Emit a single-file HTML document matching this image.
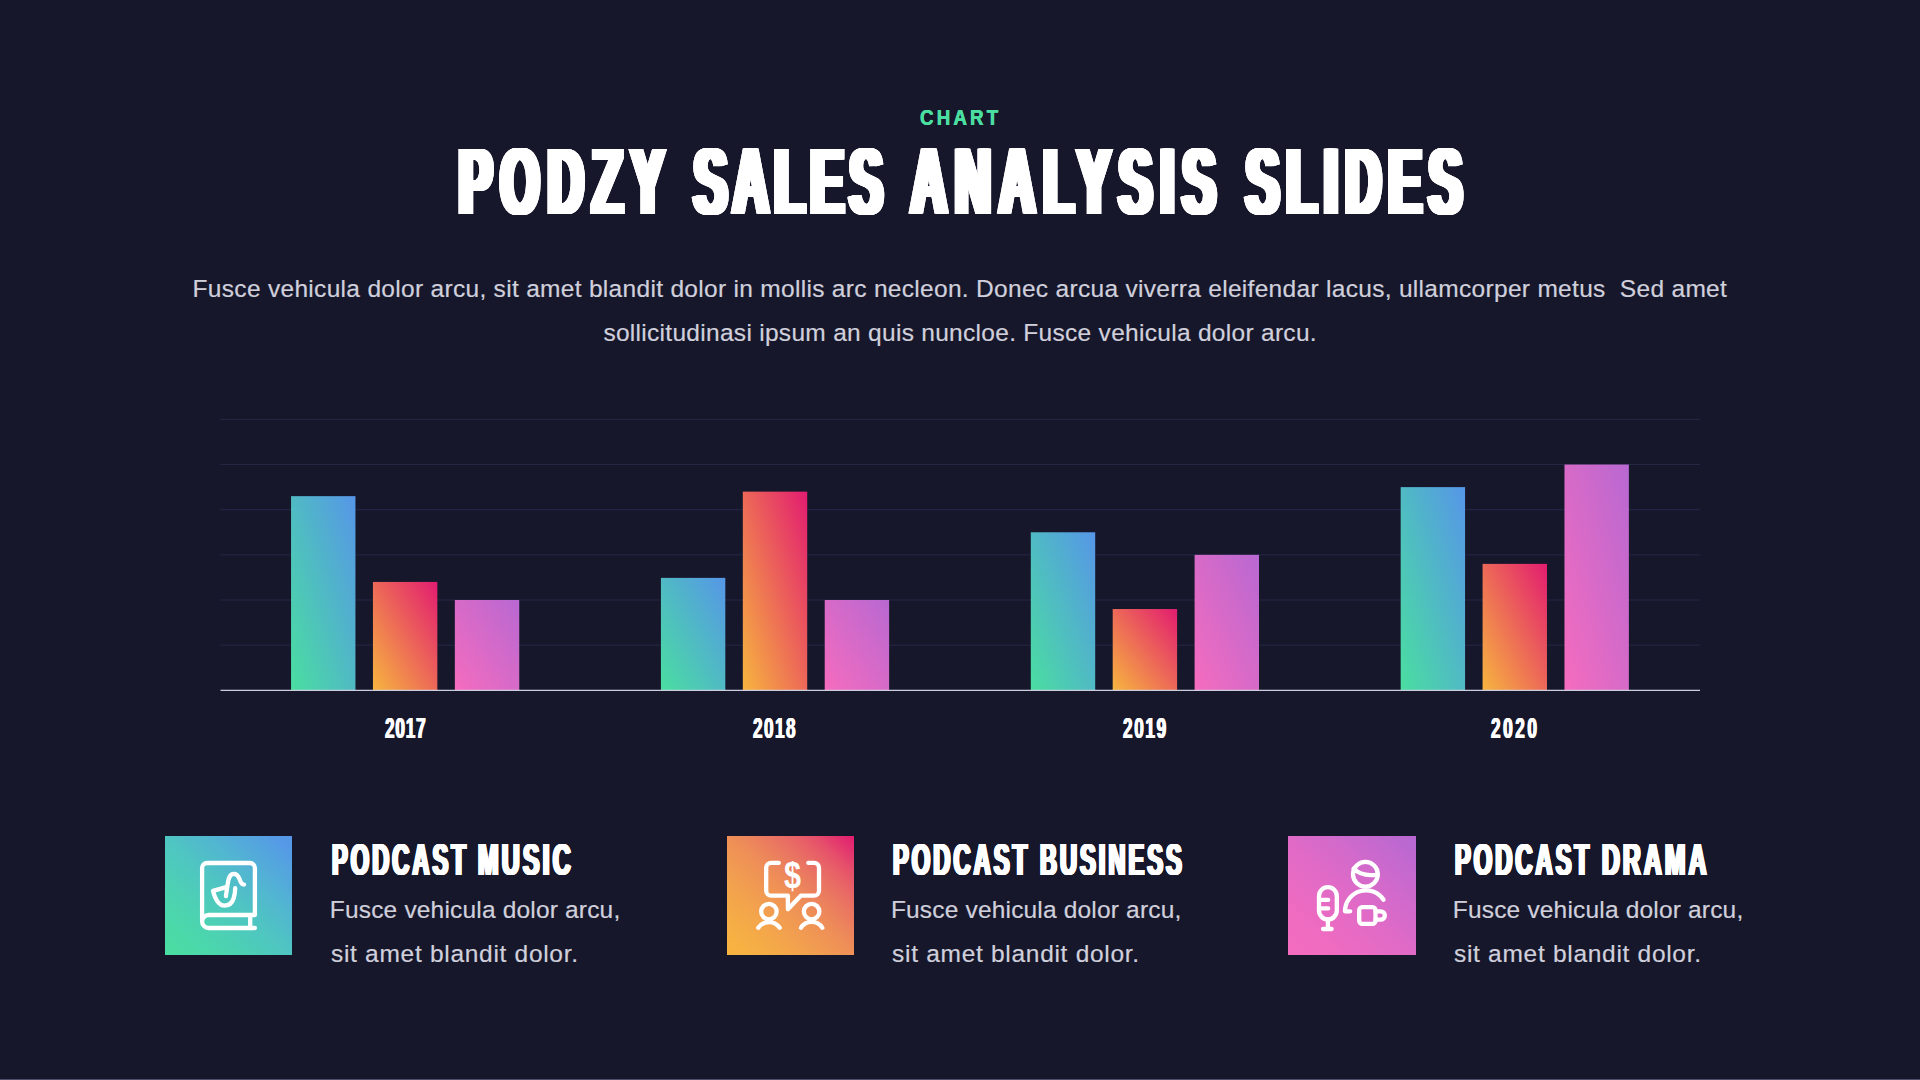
<!DOCTYPE html>
<html lang="en"><head><meta charset="utf-8"><title>Podzy Sales Analysis Slides - Chart</title>
<style>
html,body{margin:0;padding:0}
body{width:1920px;height:1080px;background:#17172b;position:relative;overflow:hidden;font-family:"Liberation Sans",sans-serif}
.abs,.abs div,.abs p,.abs h1,.abs h3,.abs span{position:absolute;display:block;margin:0;padding:0;white-space:nowrap}
.fx{transform-origin:0 0;font-weight:700;color:#fff}
.fx.kicker{color:#4adea0}
.body{color:#d0d0dc;font-weight:400;-webkit-text-stroke:0.2px #d0d0dc}
.i1{background:linear-gradient(to top right,#4adea0 0.0%,#4bdba5 8.3%,#4bd8aa 16.7%,#4cd4af 25.0%,#4dcfb5 33.3%,#4ecabc 41.7%,#4fc5c2 50.0%,#50bdc9 58.3%,#52b6d1 66.7%,#53add8 75.0%,#54a5de 83.3%,#559be5 91.7%,#5696e8 100.0%)}.i2{background:linear-gradient(to top right,#f7b53f 0.0%,#f6b143 8.3%,#f5ac46 16.7%,#f4a74a 25.0%,#f2a04f 33.3%,#f09853 41.7%,#ef9057 50.0%,#ec845c 58.3%,#ea7661 66.7%,#e86666 75.0%,#e6526a 83.3%,#e3366e 91.7%,#e21c70 100.0%)}.i3{background:linear-gradient(to top right,#f56cbe 0.0%,#f26cbf 8.3%,#ef6cc0 16.7%,#ec6bc1 25.0%,#e86bc3 33.3%,#e36bc5 41.7%,#df6ac7 50.0%,#d86ac9 58.3%,#d26acb 66.7%,#cb69cd 75.0%,#c469cf 83.3%,#bc68d1 91.7%,#b868d2 100.0%)}
.ico{width:127.2px;height:119px;top:836px}
svg{position:absolute;left:0;top:0;overflow:visible}
.ic *{fill:none;stroke:#fff;stroke-width:4.3;stroke-linecap:round;stroke-linejoin:round}
</style></head>
<body>
<header class="abs" style="left:0;top:0">
<div class="fx kicker" style="left:919.80px;top:107.97px;font-size:21.30px;line-height:21.30px;letter-spacing:3.586px;transform:scaleX(0.8800);text-shadow:0.34px 0 #4adea0,-0.34px 0 #4adea0">CHART</div>
<h1 style="left:0;top:0;font-size:95px">
<span class="fx" style="left:458.88px;top:133.96px;font-size:95.00px;line-height:95.00px;letter-spacing:16.805px;transform:scaleX(0.5200);text-shadow:1.00px 0 #fff,-1.00px 0 #fff,2.00px 0 #fff,-2.00px 0 #fff,3.00px 0 #fff,-3.00px 0 #fff,4.00px 0 #fff,-4.00px 0 #fff,5.00px 0 #fff,-5.00px 0 #fff,6.00px 0 #fff,-6.00px 0 #fff,7.00px 0 #fff,-7.00px 0 #fff,7.12px 0 #fff,-7.12px 0 #fff">PODZY</span> 
<span class="fx" style="left:693.66px;top:133.96px;font-size:95.00px;line-height:95.00px;letter-spacing:11.486px;transform:scaleX(0.5200);text-shadow:1.00px 0 #fff,-1.00px 0 #fff,2.00px 0 #fff,-2.00px 0 #fff,3.00px 0 #fff,-3.00px 0 #fff,4.00px 0 #fff,-4.00px 0 #fff,5.00px 0 #fff,-5.00px 0 #fff,6.00px 0 #fff,-6.00px 0 #fff,7.00px 0 #fff,-7.00px 0 #fff,7.12px 0 #fff,-7.12px 0 #fff">SALES</span> 
<span class="fx" style="left:911.16px;top:133.96px;font-size:95.00px;line-height:95.00px;letter-spacing:16.278px;transform:scaleX(0.5200);text-shadow:1.00px 0 #fff,-1.00px 0 #fff,2.00px 0 #fff,-2.00px 0 #fff,3.00px 0 #fff,-3.00px 0 #fff,4.00px 0 #fff,-4.00px 0 #fff,5.00px 0 #fff,-5.00px 0 #fff,6.00px 0 #fff,-6.00px 0 #fff,7.00px 0 #fff,-7.00px 0 #fff,7.12px 0 #fff,-7.12px 0 #fff">ANALYSIS</span> 
<span class="fx" style="left:1245.96px;top:133.96px;font-size:95.00px;line-height:95.00px;letter-spacing:14.410px;transform:scaleX(0.5200);text-shadow:1.00px 0 #fff,-1.00px 0 #fff,2.00px 0 #fff,-2.00px 0 #fff,3.00px 0 #fff,-3.00px 0 #fff,4.00px 0 #fff,-4.00px 0 #fff,5.00px 0 #fff,-5.00px 0 #fff,6.00px 0 #fff,-6.00px 0 #fff,7.00px 0 #fff,-7.00px 0 #fff,7.12px 0 #fff,-7.12px 0 #fff">SLIDES</span> 
</h1>
<p class="body" style="left:192.60px;top:275px;font-size:24.5px;line-height:27px;letter-spacing:0.305px">Fusce vehicula dolor arcu, sit amet blandit dolor in mollis arc necleon. Donec arcua viverra eleifendar lacus, ullamcorper metus&nbsp; Sed amet</p>
<p class="body" style="left:603.40px;top:319px;font-size:24.5px;line-height:27px;letter-spacing:0.292px">sollicitudinasi ipsum an quis nuncloe. Fusce vehicula dolor arcu.</p>
</header>
<section class="abs" style="left:0;top:0">
<svg width="1920" height="1080" viewBox="0 0 1920 1080" aria-hidden="true"><path d="M220.5,645.15H1700.0M220.5,600.00H1700.0M220.5,554.85H1700.0M220.5,509.70H1700.0M220.5,464.55H1700.0M220.5,419.40H1700.0" fill="none" stroke="#272749" stroke-width="1"/></svg>
<svg width="1920" height="1080" viewBox="0 0 1920 1080" aria-hidden="true"><defs>
<linearGradient id="b1" x1="0" y1="1" x2="1" y2="0"><stop offset="0" stop-color="#4adea0"/><stop offset="1" stop-color="#5696e8"/></linearGradient>
<linearGradient id="b2" x1="0" y1="1" x2="1" y2="0"><stop offset="0" stop-color="#f7b53f"/><stop offset="1" stop-color="#e21c70"/></linearGradient>
<linearGradient id="b3" x1="0" y1="1" x2="1" y2="0"><stop offset="0" stop-color="#f56cbe"/><stop offset="1" stop-color="#b868d2"/></linearGradient>
</defs>
<rect x="291.05" y="496.15" width="64.4" height="194.14" fill="url(#b1)"/>
<rect x="372.95" y="581.94" width="64.4" height="108.36" fill="url(#b2)"/>
<rect x="454.85" y="600.00" width="64.4" height="90.30" fill="url(#b3)"/>
<rect x="660.92" y="577.88" width="64.4" height="112.42" fill="url(#b1)"/>
<rect x="742.82" y="491.64" width="64.4" height="198.66" fill="url(#b2)"/>
<rect x="824.72" y="600.00" width="64.4" height="90.30" fill="url(#b3)"/>
<rect x="1030.80" y="532.27" width="64.4" height="158.02" fill="url(#b1)"/>
<rect x="1112.70" y="609.03" width="64.4" height="81.27" fill="url(#b2)"/>
<rect x="1194.60" y="554.85" width="64.4" height="135.45" fill="url(#b3)"/>
<rect x="1400.67" y="487.12" width="64.4" height="203.17" fill="url(#b1)"/>
<rect x="1482.58" y="563.88" width="64.4" height="126.42" fill="url(#b2)"/>
<rect x="1564.47" y="464.55" width="64.4" height="225.75" fill="url(#b3)"/>
</svg>
<svg width="1920" height="1080" viewBox="0 0 1920 1080" aria-hidden="true"><path d="M220.5,690.3H1700.0" fill="none" stroke="#cdcde0" stroke-width="1.3"/></svg>
<div class="fx" style="left:384.55px;top:713.68px;font-size:28.60px;line-height:28.60px;letter-spacing:1.375px;transform:scaleX(0.6000);text-shadow:0.92px 0 #fff,-0.92px 0 #fff">2017</div>
<div class="fx" style="left:753.05px;top:713.68px;font-size:28.60px;line-height:28.60px;letter-spacing:2.431px;transform:scaleX(0.6000);text-shadow:0.92px 0 #fff,-0.92px 0 #fff">2018</div>
<div class="fx" style="left:1123.05px;top:713.68px;font-size:28.60px;line-height:28.60px;letter-spacing:2.764px;transform:scaleX(0.6000);text-shadow:0.92px 0 #fff,-0.92px 0 #fff">2019</div>
<div class="fx" style="left:1491.35px;top:713.68px;font-size:28.60px;line-height:28.60px;letter-spacing:4.320px;transform:scaleX(0.6000);text-shadow:0.92px 0 #fff,-0.92px 0 #fff">2020</div>
</section>
<article class="abs" style="left:0;top:0">
<div class="ico i1" style="left:165px"></div>
<svg class="ic" width="1920" height="1080" viewBox="0 0 1920 1080" aria-hidden="true">
<path d="M202.1,921.5V868a5,5 0 0 1 5,-5H249.9a5,5 0 0 1 5,5V915H208.6a6.5,6.5 0 0 0 0,13H254.9"/>
<path d="M250.2,915V928"/>
<path d="M244.1,884.6C240.5,884.6 240.3,880.5 239.3,878.5C238,875.5 236.5,873.9 233.9,873.9C229,873.9 228.2,880 227.6,884.5L225.9,896.1"/>
<path d="M226.3,887.2L213,890.8C213.8,894 214.3,895.5 215.2,897.4C217.3,902.2 220.3,905.6 224.3,905.6C229.5,905.6 232.3,902.5 233.6,898.5C234.7,895 235.2,891.5 235.2,888.1"/>
</svg>
<h3 style="left:0;top:0;font-size:42px">
<span class="fx" style="left:331.67px;top:838.57px;font-size:43.50px;line-height:43.50px;letter-spacing:5.800px;transform:scaleX(0.5404);text-shadow:1.00px 0 #fff,-1.00px 0 #fff,2.00px 0 #fff,-2.00px 0 #fff,2.31px 0 #fff,-2.31px 0 #fff">PODCAST</span> 
<span class="fx" style="left:477.92px;top:838.57px;font-size:43.50px;line-height:43.50px;letter-spacing:5.800px;transform:scaleX(0.5673);text-shadow:1.00px 0 #fff,-1.00px 0 #fff,2.00px 0 #fff,-2.00px 0 #fff,2.20px 0 #fff,-2.20px 0 #fff">MUSIC</span> 
</h3>
<p class="body" style="left:329.80px;top:896px;font-size:24.5px;line-height:27px;letter-spacing:0.177px">Fusce vehicula dolor arcu,</p>
<p class="body" style="left:331.00px;top:940px;font-size:24.5px;line-height:27px;letter-spacing:0.704px">sit amet blandit dolor.</p>
</article>
<article class="abs" style="left:0;top:0">
<div class="ico i2" style="left:727px"></div>
<svg class="ic" width="1920" height="1080" viewBox="0 0 1920 1080" aria-hidden="true">
<path d="M778.8,862.9H771.2a5,5 0 0 0 -5,5V890.7a5,5 0 0 0 5,5H787.9V909.3L800.8,895.7H814a5,5 0 0 0 5,-5V867.9a5,5 0 0 0 -5,-5H808.3"/>
<circle cx="768.9" cy="911.6" r="7.75"/><path d="M758.3,927.8A12.8,12.8 0 0 1 779.7,927.8"/>
<circle cx="811.6" cy="911.6" r="7.75"/><path d="M800.9,927.8A12.8,12.8 0 0 1 822.4,927.8"/>
</svg>
<div class="fx" style="left:783.99px;top:857.72px;font-size:36.2px;line-height:36.2px;transform:scaleX(0.8441)">$</div>
<h3 style="left:0;top:0;font-size:42px">
<span class="fx" style="left:892.67px;top:838.57px;font-size:43.50px;line-height:43.50px;letter-spacing:5.800px;transform:scaleX(0.5417);text-shadow:1.00px 0 #fff,-1.00px 0 #fff,2.00px 0 #fff,-2.00px 0 #fff,2.31px 0 #fff,-2.31px 0 #fff">PODCAST</span> 
<span class="fx" style="left:1040.37px;top:838.57px;font-size:43.50px;line-height:43.50px;letter-spacing:5.800px;transform:scaleX(0.5389);text-shadow:1.00px 0 #fff,-1.00px 0 #fff,2.00px 0 #fff,-2.00px 0 #fff,2.32px 0 #fff,-2.32px 0 #fff">BUSINESS</span> 
</h3>
<p class="body" style="left:890.90px;top:896px;font-size:24.5px;line-height:27px;letter-spacing:0.177px">Fusce vehicula dolor arcu,</p>
<p class="body" style="left:892.10px;top:940px;font-size:24.5px;line-height:27px;letter-spacing:0.704px">sit amet blandit dolor.</p>
</article>
<article class="abs" style="left:0;top:0">
<div class="ico i3" style="left:1288px;width:128px"></div>
<svg class="ic" width="1920" height="1080" viewBox="0 0 1920 1080" aria-hidden="true">
<rect x="1319" y="887.1" width="17.8" height="32.4" rx="8.9"/>
<path d="M1319,899.9H1328.2M1319,908.4H1328.2M1327.9,919.5V929M1323,929H1331.6"/>
<circle cx="1365.4" cy="874.2" r="12.4"/>
<path d="M1353.6,868.6Q1362,877.2 1377.6,874.6"/>
<path d="M1350.2,911.3H1345A21,21 0 0 1 1383.5,899.7"/>
<rect x="1359.2" y="907.1" width="16.3" height="16.7" rx="3"/>
<path d="M1375.5,911.3H1380.7a4.15,4.15 0 0 1 0,8.3H1375.5"/>
</svg>
<h3 style="left:0;top:0;font-size:42px">
<span class="fx" style="left:1454.57px;top:838.57px;font-size:43.50px;line-height:43.50px;letter-spacing:5.800px;transform:scaleX(0.5413);text-shadow:1.00px 0 #fff,-1.00px 0 #fff,2.00px 0 #fff,-2.00px 0 #fff,2.31px 0 #fff,-2.31px 0 #fff">PODCAST</span> 
<span class="fx" style="left:1601.92px;top:838.57px;font-size:43.50px;line-height:43.50px;letter-spacing:5.800px;transform:scaleX(0.5638);text-shadow:1.00px 0 #fff,-1.00px 0 #fff,2.00px 0 #fff,-2.00px 0 #fff,2.22px 0 #fff,-2.22px 0 #fff">DRAMA</span> 
</h3>
<p class="body" style="left:1452.80px;top:896px;font-size:24.5px;line-height:27px;letter-spacing:0.177px">Fusce vehicula dolor arcu,</p>
<p class="body" style="left:1454.00px;top:940px;font-size:24.5px;line-height:27px;letter-spacing:0.704px">sit amet blandit dolor.</p>
</article>
<div style="position:absolute;left:0;top:1079px;width:1920px;height:1px;background:#4e4e6a"></div>
</body></html>
